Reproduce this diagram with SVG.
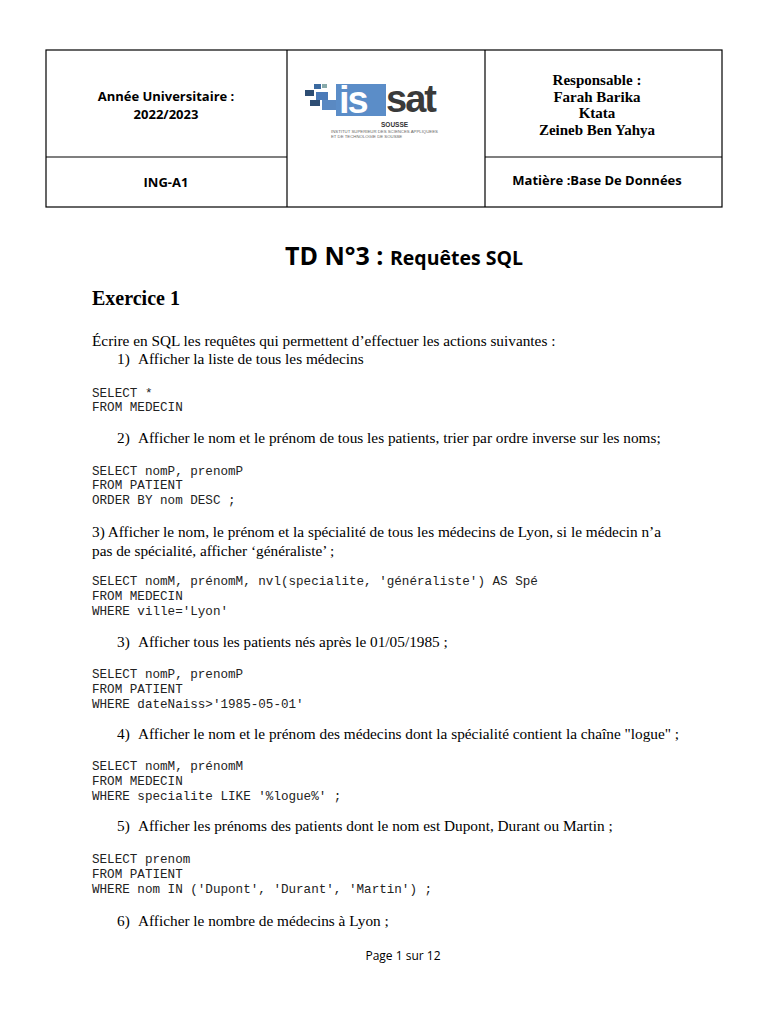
<svg xmlns="http://www.w3.org/2000/svg" width="768" height="1024" viewBox="0 0 768 1024">
<style>
.h{font-family:"Open Sans","Liberation Sans",sans-serif;font-weight:bold;font-size:13px;text-anchor:middle;fill:#000}
.r{font-family:"Liberation Serif",serif;font-weight:bold;font-size:15px;text-anchor:middle;fill:#000}
.t{font-family:"Liberation Serif",serif;font-size:15.3px;fill:#000}
.c{font-family:"Liberation Mono",monospace;font-size:12.6px;fill:#222}
.ln{stroke:#000;stroke-width:1.2;fill:none}
</style>
<rect width="768" height="1024" fill="#fff"/>
<g id="header">
<rect x="46" y="50" width="676" height="157" class="ln"/>
<line x1="287" y1="50" x2="287" y2="207" class="ln"/>
<line x1="485" y1="50" x2="485" y2="207" class="ln"/>
<line x1="46" y1="157" x2="287" y2="157" class="ln"/>
<line x1="485" y1="157" x2="722" y2="157" class="ln"/>
<text class="h" x="166" y="101">Année Universitaire :</text>
<text class="h" x="166" y="119">2022/2023</text>
<text class="h" x="166" y="187">ING-A1</text>
<text class="r" x="597" y="85">Responsable :</text>
<text class="r" x="597" y="102">Farah Barika</text>
<text class="r" x="597" y="118">Ktata</text>
<text class="r" x="597" y="135">Zeineb Ben Yahya</text>
<text class="h" x="597" y="185">Matière :Base De Données</text>
</g>
<g id="logo">
<rect x="314" y="84" width="7" height="5" fill="#3b6aa0"/>
<rect x="305" y="90" width="9" height="6" fill="#2d4d73"/>
<rect x="322" y="84" width="5" height="4" fill="#8aa"/>
<rect x="316" y="92" width="12" height="8" fill="#4a7ab8"/>
<rect x="310" y="100" width="10" height="6" fill="#2d4d73"/>
<rect x="322" y="100" width="14" height="10" fill="#5a89c2"/>
<rect x="336" y="84" width="50" height="32" fill="#5b8dc8"/>
<text x="339" y="113" font-family="Liberation Sans,sans-serif" font-weight="bold" font-size="38" fill="#fff" letter-spacing="-2">is</text>
<text x="386" y="112" font-family="Liberation Sans,sans-serif" font-weight="bold" font-size="38" fill="#3a3a3a" letter-spacing="-2">sat</text>
<text x="381" y="127" font-family="Liberation Sans,sans-serif" font-weight="bold" font-size="6.5" fill="#333">SOUSSE</text>
<text x="331" y="132.5" font-family="Liberation Sans,sans-serif" font-size="4.3" fill="#666">INSTITUT SUPERIEUR DES SCIENCES APPLIQUEES</text>
<text x="331" y="137.5" font-family="Liberation Sans,sans-serif" font-size="4.3" fill="#666">ET DE TECHNOLOGIE DE SOUSSE</text>
</g>
<g id="body">
<text x="404" y="265" text-anchor="middle" font-family="Open Sans,Liberation Sans,sans-serif" font-weight="bold" fill="#000"><tspan font-size="25">TD N°3 : </tspan><tspan font-size="19.5">Requêtes SQL</tspan></text>
<text x="92" y="305" font-family="Liberation Serif,serif" font-weight="bold" font-size="20">Exercice 1</text>
<text class="t" x="92" y="346">Écrire en SQL les requêtes qui permettent d’effectuer les actions suivantes :</text>
<text class="t" x="117" y="364">1)</text><text class="t" x="138" y="364">Afficher la liste de tous les médecins</text>
<text class="c" x="92" y="397">SELECT *</text>
<text class="c" x="92" y="411">FROM MEDECIN</text>
<text class="t" x="117" y="443">2)</text><text class="t" x="138" y="443">Afficher le nom et le prénom de tous les patients, trier par ordre inverse sur les noms;</text>
<text class="c" x="92" y="475">SELECT nomP, prenomP</text>
<text class="c" x="92" y="489">FROM PATIENT</text>
<text class="c" x="92" y="504">ORDER BY nom DESC ;</text>
<text class="t" x="92" y="537">3) Afficher le nom, le prénom et la spécialité de tous les médecins de Lyon, si le médecin n’a</text>
<text class="t" x="92" y="556">pas de spécialité, afficher ‘généraliste’ ;</text>
<text class="c" x="92" y="585">SELECT nomM, prénomM, nvl(specialite, 'généraliste') AS Spé</text>
<text class="c" x="92" y="600">FROM MEDECIN</text>
<text class="c" x="92" y="615">WHERE ville='Lyon'</text>
<text class="t" x="117" y="647">3)</text><text class="t" x="138" y="647">Afficher tous les patients nés après le 01/05/1985 ;</text>
<text class="c" x="92" y="678">SELECT nomP, prenomP</text>
<text class="c" x="92" y="693">FROM PATIENT</text>
<text class="c" x="92" y="708">WHERE dateNaiss&gt;'1985-05-01'</text>
<text class="t" x="117" y="739">4)</text><text class="t" x="138" y="739">Afficher le nom et le prénom des médecins dont la spécialité contient la chaîne "logue" ;</text>
<text class="c" x="92" y="770">SELECT nomM, prénomM</text>
<text class="c" x="92" y="785">FROM MEDECIN</text>
<text class="c" x="92" y="800">WHERE specialite LIKE '%logue%' ;</text>
<text class="t" x="117" y="831">5)</text><text class="t" x="138" y="831">Afficher les prénoms des patients dont le nom est Dupont, Durant ou Martin ;</text>
<text class="c" x="92" y="863">SELECT prenom</text>
<text class="c" x="92" y="878">FROM PATIENT</text>
<text class="c" x="92" y="893">WHERE nom IN ('Dupont', 'Durant', 'Martin') ;</text>
<text class="t" x="117" y="926">6)</text><text class="t" x="138" y="926">Afficher le nombre de médecins à Lyon ;</text>
<text x="403" y="960" text-anchor="middle" font-family="Open Sans,Liberation Sans,sans-serif" font-size="12">Page 1 sur 12</text>
</g>
</svg>
